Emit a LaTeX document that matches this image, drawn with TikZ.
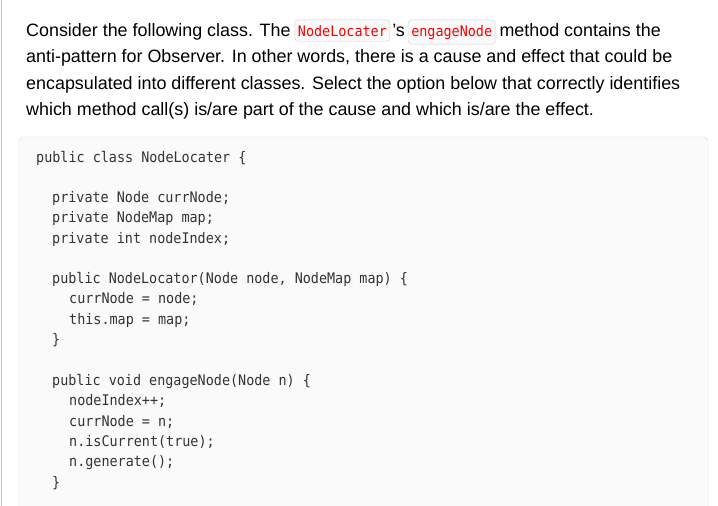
\documentclass[tikz,border=0pt]{standalone}
\usepackage{fontspec}
\setmainfont{Liberation Sans}
\newfontfamily\codefont[FakeStretch=0.92]{DejaVu Sans Mono}
\begin{document}
\begin{tikzpicture}[x=1pt,y=-1pt,
  para/.style={anchor=base west,inner sep=0pt,font=\fontsize{17.9}{20}\selectfont,text=black},
  code/.style={anchor=base west,inner sep=0pt,font=\codefont\fontsize{14.6}{16}\selectfont,text=black!80},
  chip/.style={draw=black!18,fill=black!2,rounded corners=3pt,inner xsep=3pt,inner ysep=5pt,anchor=base west,text=red,font=\codefont\fontsize{14.6}{16}\selectfont}]
\useasboundingbox (0,0) rectangle (718,506);
\fill[white] (0,0) rectangle (718,506);
\draw[black!25] (1,0) -- (1,506);
\begin{scope}
\clip (0,0) rectangle (718,506);
\draw[black!15,fill=black!2,rounded corners=4pt] (19,137) rectangle (708,540);
\end{scope}
\node[para] (t1a) at (26,36) {Consider the following class. The};
\node[chip] (c1) at ([xshift=4pt]t1a.base east) {NodeLocater};
\node[para] (t1b) at ([xshift=2pt]c1.base east) {'s};
\node[chip] (c2) at ([xshift=3pt]t1b.base east) {engageNode};
\node[para] (t1c) at ([xshift=4pt]c2.base east) {method contains the};
\node[para] (t2) at (26,62) {anti-pattern for Observer. In other words, there is a cause and effect that could be};
\node[para] (t3) at (26,89) {encapsulated into different classes. Select the option below that correctly identifies};
\node[para] (t4) at (26,115) {which method call(s) is/are part of the cause and which is/are the effect.};
\node[code] (l1) at (36,162) {public class NodeLocater \{};
\node[code] (l2) at (52,202) {private Node currNode;};
\node[code] (l3) at (52,222) {private NodeMap map;};
\node[code] (l4) at (52,243) {private int nodeIndex;};
\node[code] (l5) at (52,283) {public NodeLocator(Node node, NodeMap map) \{};
\node[code] (l6) at (69,303) {currNode = node;};
\node[code] (l7) at (69,324) {this.map = map;};
\node[code] (l8) at (52,344) {\}};
\node[code] (l9) at (52,385) {public void engageNode(Node n) \{};
\node[code] (l10) at (69,405) {nodeIndex++;};
\node[code] (l11) at (69,426) {currNode = n;};
\node[code] (l12) at (69,446) {n.isCurrent(true);};
\node[code] (l13) at (69,466) {n.generate();};
\node[code] (l14) at (52,487) {\}};
\end{tikzpicture}
\end{document}
